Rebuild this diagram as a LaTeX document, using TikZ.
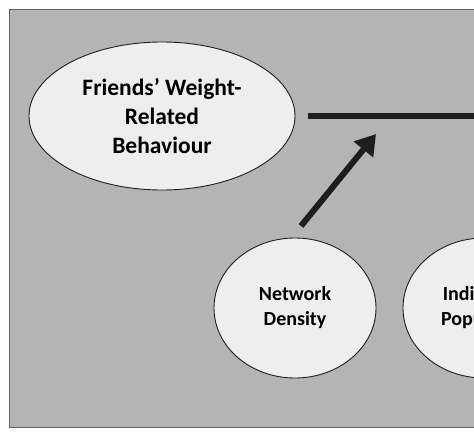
\documentclass[tikz,border=0pt]{standalone}
\usepackage{fontspec}
\setmainfont{Carlito}
\usetikzlibrary{arrows.meta,shapes.geometric}

\definecolor{panelgray}{HTML}{B4B4B4}
\definecolor{bubblefill}{HTML}{EEEEEE}
\definecolor{inkdark}{HTML}{1E1E1E}

\begin{document}
\begin{tikzpicture}[x=1pt,y=-1pt,
  bubble/.style={ellipse,draw=inkdark,line width=0.9pt,fill=bubblefill,inner sep=0pt,align=center,font=\bfseries},
  thickline/.style={line width=6pt,draw=inkdark},
  thickarrow/.style={thickline,-{Triangle[length=20pt,width=24pt]}}]
	\useasboundingbox (0,0) rectangle (474,434);
	\clip (0,0) rectangle (474,434);
	\draw[fill=panelgray,draw=inkdark!70,line width=0.8pt] (9,9) rectangle (500,427);

	\node[bubble, minimum width=266pt, minimum height=148pt, font=\bfseries\fontsize{23.5}{29}\selectfont] (fwb) at (162,116) {Friends’ Weight-\\Related\\Behaviour};
	\node[bubble, minimum width=162pt, minimum height=140pt, font=\bfseries\fontsize{20}{25}\selectfont] (nd) at (295,308) {Network\\Density};
	\node[bubble, minimum width=162pt, minimum height=140pt, font=\bfseries\fontsize{20}{25}\selectfont] (ip) at (484,308) {Individual\\Popularity};

	\coordinate (ln0) at (308,116);
	\coordinate (ln1) at (480,116);
	\coordinate (ar0) at (301,226);
	\coordinate (ar1) at (376,134);

\draw[thickline] (ln0) -- (ln1);
\draw[thickarrow] (ar0) -- (ar1);

\end{tikzpicture}
\end{document}
